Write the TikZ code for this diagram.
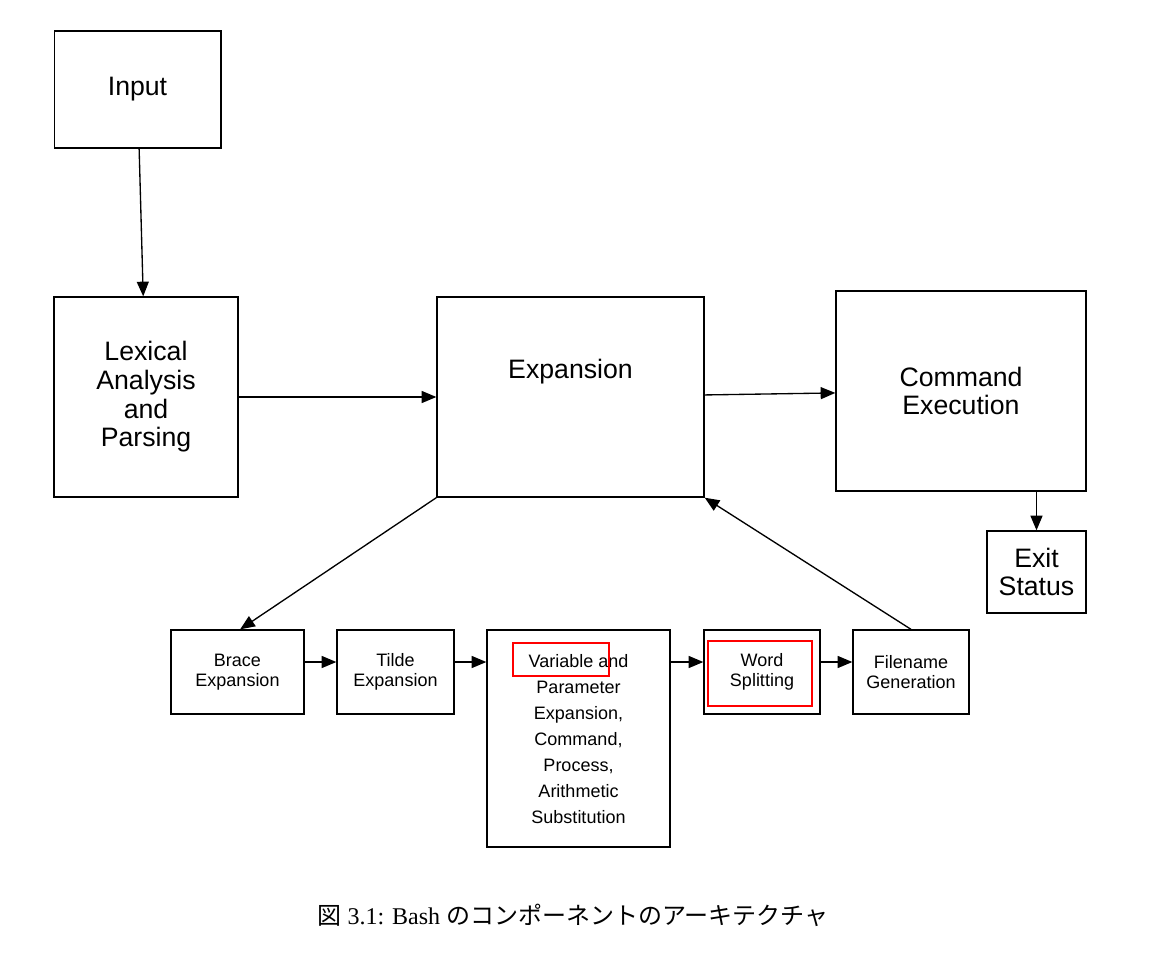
\documentclass[tikz,border=0pt]{standalone}
\usepackage{fontspec}
\setmainfont{Liberation Serif}
\newfontfamily\boxfont{Liberation Sans}
\newfontfamily\cjk{Noto Sans CJK JP}
\usetikzlibrary{arrows.meta}
\begin{document}
\begin{tikzpicture}[x=0.75pt,y=-0.75pt,
  box/.style={draw,line width=1pt,inner sep=0pt},
  big/.style={font=\boxfont\fontsize{20}{21.5}\selectfont,align=center},
  small/.style={font=\boxfont\fontsize{13.5}{14.5}\selectfont,align=center},
  arr/.style={line width=1pt,-{Triangle[length=11pt,width=9pt]}}]
\useasboundingbox (0,0) rectangle (1156,960);
% big boxes
\node[box,minimum width=125pt,minimum height=87.75pt,big] (in) at (137.5,89.5) {Input};
\node[box,minimum width=138pt,minimum height=150pt,big] (lex) at (146,397) {Lexical\\Analysis\\and\\Parsing};
\node[box,minimum width=200.25pt,minimum height=150pt] (exp) at (570.5,397) {};
\node[big] (expt) at (570.5,372) {Expansion};
\node[box,minimum width=187.5pt,minimum height=150pt,big] (cmd) at (961,391) {Command\\Execution};
\node[box,minimum width=74.25pt,minimum height=61.5pt,big] (exit) at (1036.5,572) {Exit\\Status};
% small boxes
\node[box,minimum width=99.75pt,minimum height=63pt,small] (brace) at (237.5,672) {Brace\\Expansion};
\node[box,minimum width=87.75pt,minimum height=63pt,small] (tilde) at (395.5,672) {Tilde\\Expansion};
\node[box,minimum width=137.25pt,minimum height=162.75pt] (var) at (578.5,738.5) {};
\node[small,anchor=north,font=\boxfont\fontsize{13.5}{19.5}\selectfont] (vart) at (578.5,650) {Variable and\\Parameter\\Expansion,\\Command,\\Process,\\Arithmetic\\Substitution};
\node[box,minimum width=87pt,minimum height=63pt,small] (word) at (762,672) {Word\\Splitting};
\node[box,minimum width=87pt,minimum height=63pt,small] (file) at (911,672) {Filename\\Generation};
% red highlights
\node[draw=red,line width=1.5pt,minimum width=72pt,minimum height=24.75pt] (r1) at (561,659.5) {};
\node[draw=red,line width=1.5pt,minimum width=78pt,minimum height=48.75pt] (r2) at (760,673.5) {};
% arrows
\draw[arr] (in) -- (lex);
\draw[arr] (lex) -- (exp);
\draw[arr] (exp) -- (cmd);
\draw[arr] (cmd.south -| exit) -- (exit);
\draw[arr] (exp.south west) -- ([xshift=2pt]brace.north);
\draw[arr] (file.north) -- (exp.south east);
\draw[arr] (brace.east |- 0,662) -- (tilde.west |- 0,662);
\draw[arr] (tilde.east |- 0,662) -- (var.west |- 0,662);
\draw[arr] (var.east |- 0,662) -- (word.west |- 0,662);
\draw[arr] (word.east |- 0,662) -- (file.west |- 0,662);
% caption
\node[font=\fontsize{18}{20}\selectfont] (cap) at (573,915) {{\cjk 図} 3.1: Bash {\cjk のコンポーネントのアーキテクチャ}};
\end{tikzpicture}
\end{document}
